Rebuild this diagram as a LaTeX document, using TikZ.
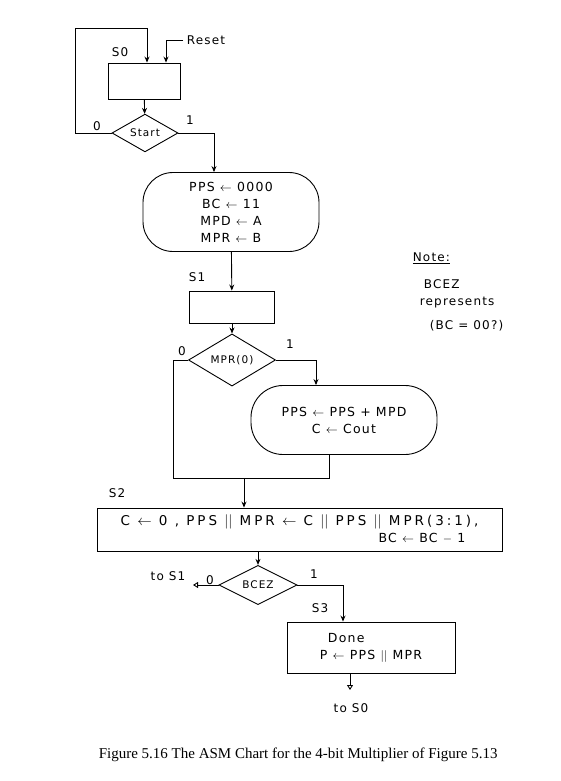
\documentclass[tikz,border=0pt]{standalone}
\usepackage{fontspec}
\setmainfont{Liberation Serif}
\newfontfamily\handfont[LetterSpace=10]{DejaVu Sans}
\newfontfamily\handwide[LetterSpace=22]{DejaVu Sans}
\usetikzlibrary{shapes.geometric,arrows.meta,positioning}

\tikzset{
  flow/.style={-{Stealth[length=6pt,width=5pt]}},
  offpage/.style={-{Triangle[open,length=5pt,width=6pt]}},
  statebox/.style={draw,rectangle,inner sep=0pt},
  decision/.style={draw,diamond,inner sep=0pt,font=\handfont\fontsize{10.5}{12}\selectfont},
  condout/.style={draw,rectangle,rounded corners=30pt,align=center,font=\handfont\fontsize{12.5}{17}\selectfont},
  lbl/.style={font=\handfont\fontsize{12}{14}\selectfont},
}

\begin{document}
\begin{tikzpicture}[x=1pt,y=-1pt,line width=0.9pt]
\useasboundingbox (0,0) rectangle (560,781);

% states and decisions
\node [statebox,minimum width=72pt,minimum height=36pt] (s0) at (144,81) {};
\node [decision,minimum width=66pt,minimum height=30pt] (start) at (145,133) {Start};
\node [condout,minimum width=176pt,minimum height=79pt] (init) at (231,212)
  {PPS $\leftarrow$ 0000\\BC $\leftarrow$ 11\\MPD $\leftarrow$ A\\MPR $\leftarrow$ B};
\node [statebox,minimum width=85pt,minimum height=32pt] (s1) at (232,307) {};
\node [decision,minimum width=87pt,minimum height=35pt] (mpr) at (232,360) {MPR(0)};
\node [condout,minimum width=186pt,minimum height=69pt,rounded corners=32pt] (add) at (344,420)
  {PPS $\leftarrow$ PPS + MPD\\C $\leftarrow$ Cout};
\node [statebox,minimum width=405pt,minimum height=43pt,align=left,
       font=\handfont\fontsize{12.5}{17}\selectfont] (s2) at (299.5,529.5)
  {{\handwide\fontsize{13.5}{17}\selectfont C $\leftarrow$ 0 , PPS $||$ MPR $\leftarrow$ C $||$ PPS $||$ MPR(3:1),}\\
   \hspace*{258pt}BC $\leftarrow$ BC $-$ 1};
\node [decision,minimum width=78pt,minimum height=39pt] (bcez) at (258,585) {BCEZ};
\node [statebox,minimum width=168pt,minimum height=51pt,align=left,
       font=\handfont\fontsize{12.5}{17}\selectfont] (s3) at (371,647.5)
  {\hspace*{8pt}Done\\P $\leftarrow$ PPS $||$ MPR};

% labels
\node [lbl] (s0lbl) at (120,52) {S0};
\node [lbl] (s1lbl) at (197,277) {S1};
\node [lbl] (s2lbl) at (117,493) {S2};
\node [lbl] (s3lbl) at (320,608) {S3};
\node [lbl] (reset) at (206,40) {Reset};
\node [lbl] (start0) at (97,126) {0};
\node [lbl] (start1) at (190,120) {1};
\node [lbl] (mpr0) at (182,351) {0};
\node [lbl] (mpr1) at (290,344) {1};
\node [lbl] (bcez0) at (210,580) {0};
\node [lbl] (bcez1) at (314,574) {1};
\node [lbl] (tos1) at (168,576) {to S1};
\node [lbl] (tos0) at (351,708) {to S0};

% note
\node [lbl,anchor=west] (note) at (409,258) {\underline{Note:}};
\node [lbl,anchor=west] (notea) at (420,284) {BCEZ};
\node [lbl,anchor=west] (noteb) at (416,303) {represents};
\node [lbl,anchor=west] (notec) at (426,326) {(BC = 00?)};

\node [font=\rmfamily\fontsize{15}{17}\selectfont,anchor=west] (caption) at (95,755)
  {Figure 5.16 The ASM Chart for the 4-bit Multiplier of Figure 5.13};

% connectors
\coordinate (join) at (244,478);
\coordinate (s1ref) at (193,585);
\coordinate (s0ref) at (350,690);

\draw [flow] (start.west) -| (75,28) -| ([xshift=3pt]s0.north);
\draw [flow] (reset.west) -| ([xshift=22pt]s0.north);
\draw [flow] (s0) -- (start);
\draw [flow] (start.east) -| ([xshift=-17pt]init.north);
\draw [flow] (init) -- (s1);
\draw [flow] (s1) -- (mpr);
\draw (mpr.west) -| (173,478) -- (join);
\draw [flow] (mpr.east) -| ([xshift=-28pt]add.north);
\draw ([xshift=-15pt]add.south) |- (join);
\draw [flow] (join) -- (join |- s2.north);
\draw [flow] (bcez.north |- s2.south) -- (bcez.north);
\draw [offpage] (bcez.west) -- (s1ref);
\draw [flow] (bcez.east) -| ([xshift=-28pt]s3.north);
\draw [offpage] ([xshift=-21pt]s3.south) -- (s0ref);
\end{tikzpicture}
\end{document}
